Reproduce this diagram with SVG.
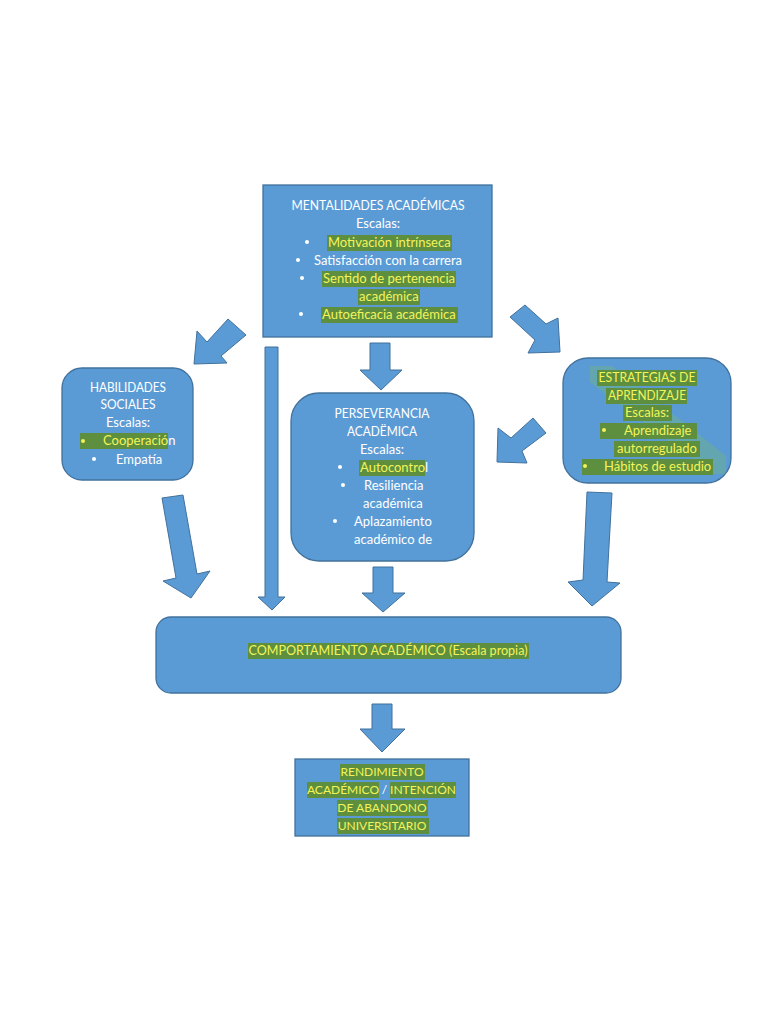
<svg xmlns="http://www.w3.org/2000/svg" width="768" height="1024" viewBox="0 0 768 1024">
<style>
.box{fill:#5b9bd5;stroke:#41719c;stroke-width:1.3}
.arr{fill:#5b9bd5;stroke:#41719c;stroke-width:1}
text{font-family:Lato,"Liberation Sans",sans-serif;font-size:13px}
.w{fill:#ffffff}
.y{fill:#f3f35a}
.c{text-anchor:middle}
.hl{fill:#5e8f3e}
.s{font-size:12px}
</style>
<rect width="768" height="1024" fill="#ffffff"/>
<g id="connectors">
<polygon class="arr" points="228,319 246,335 221,356 227,363 194,364 197,331 207,342"/>
<polygon class="arr" points="525,305 546,324 558,318 560,352 528,353 535,340 510,317"/>
<polygon class="arr" points="533,418 546,433 522,451 527,463 497,462 498,428 511,438"/>
<polygon class="arr" points="370,343 390,343 390,370 402,370 381,390 360,370 370,370"/>
<polygon class="arr" points="265,347 278,347 278,597 285,597 272,610 258,597 265,597"/>
<polygon class="arr" points="162,498 183,495 197,574 210,571 191,598 163,581 176,578"/>
<polygon class="arr" points="373,567 393,567 393,593 405,593 383,612 362,593 373,593"/>
<polygon class="arr" points="587,492 612,493 607,582 620,583 592,606 568,582 583,580"/>
<polygon class="arr" points="372,704 392,704 392,729 405,729 382,752 360,729 372,729"/>
</g>
<g id="mentalidades">
<rect class="box" x="263" y="185" width="229" height="152"/>
<rect class="hl" x="327" y="235" width="125" height="16"/>
<rect class="hl" x="322" y="271" width="134" height="16"/>
<rect class="hl" x="358" y="289" width="62" height="16"/>
<rect class="hl" x="321" y="307" width="137" height="16"/>
<text class="w c" x="378" y="210" textLength="173" lengthAdjust="spacingAndGlyphs">MENTALIDADES ACADÉMICAS</text>
<text class="w c" x="378" y="228">Escalas:</text>
<circle cx="307" cy="242" r="2" fill="#fff"/>
<text class="y" x="328" y="247">Motivación intrínseca</text>
<circle cx="298" cy="260" r="2" fill="#fff"/>
<text class="w" x="314" y="265">Satisfacción con la carrera</text>
<circle cx="302" cy="278" r="2" fill="#fff"/>
<text class="y" x="323" y="283">Sentido de pertenencia</text>
<text class="y" x="359" y="301">académica</text>
<circle cx="301" cy="314" r="2" fill="#fff"/>
<text class="y" x="322" y="319">Autoeficacia académica</text>
</g>
<g id="habilidades">
<rect class="box" x="62" y="368" width="131" height="112" rx="20"/>
<text class="w c" x="128" y="392" textLength="76" lengthAdjust="spacingAndGlyphs">HABILIDADES</text>
<text class="w c" x="128" y="409" textLength="55" lengthAdjust="spacingAndGlyphs">SOCIALES</text>
<text class="w c" x="128" y="427">Escalas:</text>
<rect class="hl" x="80" y="433" width="88" height="16"/>
<circle cx="83" cy="441" r="2" fill="#f3f35a"/>
<text class="y" x="103" y="445">Cooperació<tspan class="w">n</tspan></text>
<circle cx="94" cy="459" r="2" fill="#fff"/>
<text class="w" x="116" y="464">Empatía</text>
</g>
<g id="perseverancia">
<rect class="box" x="291" y="393" width="183" height="168" rx="28"/>
<text class="w c" x="382" y="418" textLength="95" lengthAdjust="spacingAndGlyphs">PERSEVERANCIA</text>
<text class="w c" x="382" y="436" textLength="70" lengthAdjust="spacingAndGlyphs">ACADËMICA</text>
<text class="w c" x="382" y="454">Escalas:</text>
<rect class="hl" x="359" y="460" width="66" height="16"/>
<circle cx="340" cy="467" r="2" fill="#fff"/>
<text class="y" x="360" y="472">Autocontro<tspan class="w">l</tspan></text>
<circle cx="343" cy="485" r="2" fill="#fff"/>
<text class="w" x="364" y="490">Resiliencia</text>
<text class="w" x="363" y="508">académica</text>
<circle cx="335" cy="521" r="2" fill="#fff"/>
<text class="w" x="354" y="526">Aplazamiento</text>
<text class="w" x="354" y="544">académico de</text>
</g>
<g id="estrategias">
<rect class="box" x="563" y="358" width="168" height="125" rx="25"/>
<polygon points="590,366 612,366 726,456 726,474 712,474 590,382" fill="#7fc34e" opacity="0.28"/>
<rect class="hl" x="597" y="370" width="100" height="16"/>
<rect class="hl" x="606" y="388" width="81" height="16"/>
<rect class="hl" x="623" y="405" width="49" height="16"/>
<rect class="hl" x="600" y="423" width="97" height="16"/>
<rect class="hl" x="614" y="441" width="86" height="16"/>
<rect class="hl" x="582" y="459" width="131" height="16"/>
<text class="y c" x="647" y="382" textLength="97" lengthAdjust="spacingAndGlyphs">ESTRATEGIAS DE</text>
<text class="y c" x="647" y="400" textLength="78" lengthAdjust="spacingAndGlyphs">APRENDIZAJE</text>
<text class="y c" x="647" y="417">Escalas:</text>
<circle cx="604" cy="430" r="2" fill="#f3f35a"/>
<text class="y" x="624" y="435">Aprendizaje</text>
<text class="y" x="617" y="453">autorregulado</text>
<circle cx="585" cy="466" r="2" fill="#f3f35a"/>
<text class="y" x="604" y="471">Hábitos de estudio</text>
</g>
<g id="comportamiento">
<rect class="box" x="156" y="617" width="465" height="76" rx="15"/>
<rect class="hl" x="248" y="643" width="281" height="16"/>
<text class="y c" x="388" y="655" textLength="279" lengthAdjust="spacingAndGlyphs">COMPORTAMIENTO ACADÉMICO (Escala propia)</text>
</g>
<g id="rendimiento">
<rect class="box" x="295" y="759" width="174" height="77"/>
<rect class="hl" x="340" y="764" width="85" height="16"/>
<rect class="hl" x="307" y="782" width="72" height="16"/>
<rect class="hl" x="390" y="782" width="66" height="16"/>
<rect class="hl" x="337" y="800" width="91" height="16"/>
<rect class="hl" x="337" y="818" width="92" height="16"/>
<text class="y c s" x="382" y="776">RENDIMIENTO</text>
<text class="y c s" x="343" y="794">ACADÉMICO</text>
<text class="w c s" x="384.5" y="794">/</text>
<text class="y c s" x="423" y="794">INTENCIÓN</text>
<text class="y c s" x="382" y="812">DE ABANDONO</text>
<text class="y c s" x="382" y="830">UNIVERSITARIO</text>
</g>
</svg>
